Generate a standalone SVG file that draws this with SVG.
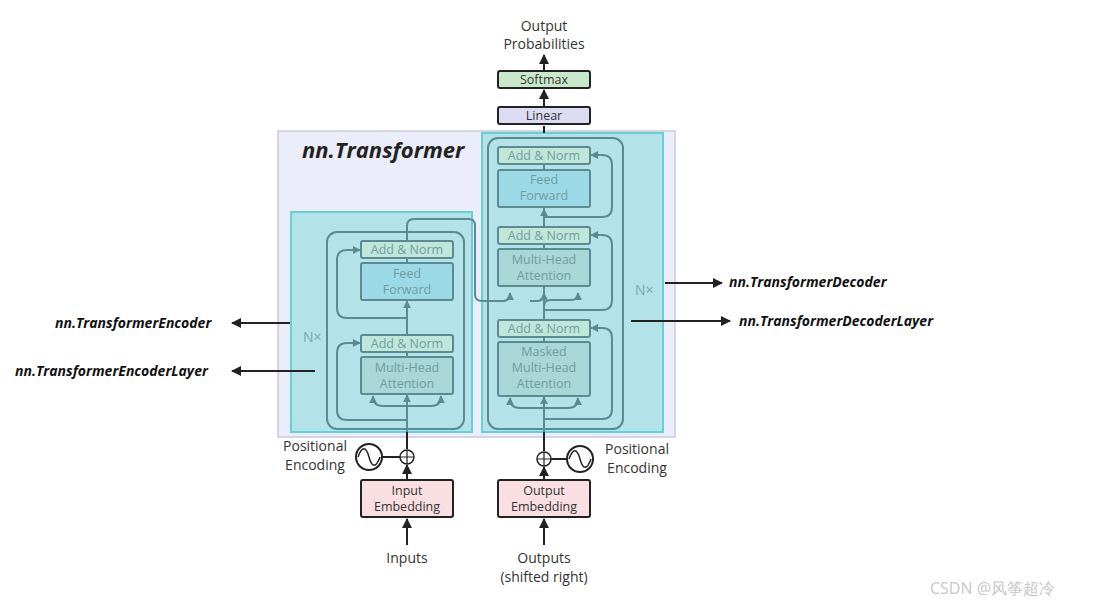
<svg xmlns="http://www.w3.org/2000/svg" width="1093" height="606" viewBox="0 0 1093 606">
<defs>
<marker id="ah" viewBox="0 0 10 10" refX="9" refY="5" markerWidth="5" markerHeight="5" orient="auto"><path d="M0,0 L10,5 L0,10 z" fill="#222"/></marker>
<marker id="af" viewBox="0 0 10 10" refX="9" refY="5" markerWidth="4" markerHeight="4" orient="auto"><path d="M0,0 L10,5 L0,10 z" fill="#5b8b90"/></marker>
<style>
text{font-family:"Open Sans","Liberation Sans",sans-serif}
.blk{font-size:12.5px;fill:#6f9da0;text-anchor:middle}
.an{fill:#bfe6d8;stroke:#5b8b90;stroke-width:2}
.ff{fill:#9cd9e6;stroke:#5b8b90;stroke-width:2}
.mh{fill:#a9d6d6;stroke:#5b8b90;stroke-width:2}
.fl{fill:none;stroke:#5b8b90;stroke-width:2}
.dk{fill:none;stroke:#222;stroke-width:2}
.lb{font-size:14px;fill:#333;text-anchor:middle}
.api{font-size:14px;font-weight:bold;font-style:italic;fill:#111}
</style>
</defs>
<rect width="1093" height="606" fill="#fff"/>
<g id="transformer"><rect x="278" y="131" width="397" height="306" fill="#ecedfa" stroke="#c9c9e0" stroke-width="1.5"/>
<text x="302" y="158" font-size="22" font-weight="bold" font-style="italic" fill="#222">nn.Transformer</text></g>
<g id="encoder-box"><rect x="291" y="212" width="181" height="220" fill="#b3e2e8" stroke="#62d2d6" stroke-width="2"/>
<text x="303" y="342" font-size="14" fill="#7aa8ac">N×</text></g>
<g id="decoder-box"><rect x="482" y="133" width="181" height="299" fill="#b3e2e8" stroke="#62d2d6" stroke-width="2"/>
<text x="635" y="295" font-size="14" fill="#7aa8ac">N×</text></g>
<g id="enc-layer"><rect x="327" y="232" width="137" height="197" rx="10" class="fl"/></g>
<g id="dec-layer"><rect x="488" y="138" width="135" height="291" rx="10" class="fl"/></g>
<g id="connectors">
<path d="M407,432 V240" class="fl"/>
<path d="M407,420 H347 Q337,420 337,410 V353 Q337,343 347,343 H360" class="fl" marker-end="url(#af)"/>
<path d="M407,318 H347 Q337,318 337,308 V260 Q337,250 347,250 H360" class="fl" marker-end="url(#af)"/>
<path d="M407,336 V301" class="fl" marker-end="url(#af)"/>
<path d="M407,406 H383 Q373,406 373,396" class="fl" marker-end="url(#af)"/>
<path d="M407,406 H431 Q441,406 441,396" class="fl" marker-end="url(#af)"/>
<path d="M407,410 V395" class="fl" marker-end="url(#af)"/>
<path d="M407,241 V226 Q407,219 414,219 H469 Q475,219 475,226 V294 Q475,301 482,301 H503 Q510,301 510,293" class="fl" marker-end="url(#af)"/>
<path d="M530,301 H537 Q544,301 544,293" class="fl" marker-end="url(#af)"/>
<path d="M544,432 V146" class="fl"/>
<path d="M544,419 H602 Q612,419 612,409 V338 Q612,328 602,328 H591" class="fl" marker-end="url(#af)"/>
<path d="M544,310 H602 Q612,310 612,300 V245 Q612,235 602,235 H591" class="fl" marker-end="url(#af)"/>
<path d="M544,217 H602 Q612,217 612,207 V165 Q612,155 602,155 H591" class="fl" marker-end="url(#af)"/>
<path d="M544,310 V306 Q544,300 551,300 H571 Q578,300 578,293" class="fl" marker-end="url(#af)"/>
<path d="M544,408 H520 Q510,408 510,398" class="fl" marker-end="url(#af)"/>
<path d="M544,408 H568 Q578,408 578,398" class="fl" marker-end="url(#af)"/>
<path d="M544,410 V397" class="fl" marker-end="url(#af)"/>
<path d="M544,320 V340" class="fl"/>
<path d="M544,226 V209" class="fl" marker-end="url(#af)"/>
<path d="M407,432 V449" class="dk"/>
<path d="M407,479 V465" class="dk" marker-end="url(#ah)"/>
<path d="M407,545 V519" class="dk" marker-end="url(#ah)"/>
<path d="M382,457 H400" class="dk"/>
<path d="M544,432 V451" class="dk"/>
<path d="M544,479 V467" class="dk" marker-end="url(#ah)"/>
<path d="M544,545 V519" class="dk" marker-end="url(#ah)"/>
<path d="M551,459 H567" class="dk"/>
<path d="M544,133 V126" class="dk"/>
<path d="M544,106 V90" class="dk" marker-end="url(#ah)"/>
<path d="M544,70 V55" class="dk" marker-end="url(#ah)"/>
<path d="M290,323 H232" class="dk" marker-end="url(#ah)" stroke-width="1.5"/>
<path d="M315,371 H232" class="dk" marker-end="url(#ah)" stroke-width="1.5"/>
<path d="M665,283 H722" class="dk" marker-end="url(#ah)" stroke-width="1.5"/>
<path d="M631,321 H730" class="dk" marker-end="url(#ah)" stroke-width="1.5"/>
</g>
<g id="enc-addnorm2"><rect x="361" y="241" width="92" height="17" rx="2" class="an"/><text x="407" y="254" class="blk">Add &amp; Norm</text></g>
<g id="enc-ff"><rect x="361" y="263" width="92" height="37" rx="2" class="ff"/><text x="407" y="278" class="blk">Feed</text><text x="407" y="294" class="blk">Forward</text></g>
<g id="enc-addnorm1"><rect x="361" y="335" width="92" height="17" rx="2" class="an"/><text x="407" y="348" class="blk">Add &amp; Norm</text></g>
<g id="enc-mha"><rect x="361" y="357" width="92" height="37" rx="2" class="mh"/><text x="407" y="372" class="blk">Multi-Head</text><text x="407" y="388" class="blk">Attention</text></g>
<g id="dec-addnorm3"><rect x="498" y="147" width="92" height="17" rx="2" class="an"/><text x="544" y="160" class="blk">Add &amp; Norm</text></g>
<g id="dec-ff"><rect x="498" y="170" width="92" height="37" rx="2" class="ff"/><text x="544" y="184" class="blk">Feed</text><text x="544" y="200" class="blk">Forward</text></g>
<g id="dec-addnorm2"><rect x="498" y="227" width="92" height="17" rx="2" class="an"/><text x="544" y="240" class="blk">Add &amp; Norm</text></g>
<g id="dec-mha"><rect x="498" y="249" width="92" height="37" rx="2" class="mh"/><text x="544" y="264" class="blk">Multi-Head</text><text x="544" y="280" class="blk">Attention</text></g>
<g id="dec-addnorm1"><rect x="498" y="320" width="92" height="17" rx="2" class="an"/><text x="544" y="333" class="blk">Add &amp; Norm</text></g>
<g id="dec-mmha"><rect x="498" y="342" width="92" height="54" rx="2" class="mh"/><text x="544" y="356" class="blk">Masked</text><text x="544" y="372" class="blk">Multi-Head</text><text x="544" y="388" class="blk">Attention</text></g>
<g id="enc-pe"><circle cx="369" cy="457" r="13" fill="#fff" stroke="#222" stroke-width="2"/><path d="M358,457 C362,446 366,446 369,457 C372,468 376,468 380,457" fill="none" stroke="#222" stroke-width="1.5"/>
<circle cx="407" cy="457" r="7" fill="#fff" stroke="#222" stroke-width="1.5"/><path d="M400,457 H414 M407,450 V464" stroke="#222" stroke-width="1.2"/>
<text x="315" y="451" class="lb">Positional</text><text x="315" y="470" class="lb">Encoding</text></g>
<g id="dec-pe"><circle cx="580" cy="459" r="13" fill="#fff" stroke="#222" stroke-width="2"/><path d="M569,459 C573,448 577,448 580,459 C583,470 587,470 591,459" fill="none" stroke="#222" stroke-width="1.5"/>
<circle cx="544" cy="459" r="7" fill="#fff" stroke="#222" stroke-width="1.5"/><path d="M537,459 H551 M544,452 V466" stroke="#222" stroke-width="1.2"/>
<text x="637" y="454" class="lb">Positional</text><text x="637" y="473" class="lb">Encoding</text></g>
<g id="input-emb"><rect x="361" y="480" width="92" height="37" rx="2" fill="#f9dfe2" stroke="#222" stroke-width="2"/><text x="407" y="495" font-size="12.5" text-anchor="middle" fill="#333">Input</text><text x="407" y="511" font-size="12.5" text-anchor="middle" fill="#333">Embedding</text></g>
<g id="output-emb"><rect x="498" y="480" width="92" height="37" rx="2" fill="#f9dfe2" stroke="#222" stroke-width="2"/><text x="544" y="495" font-size="12.5" text-anchor="middle" fill="#333">Output</text><text x="544" y="511" font-size="12.5" text-anchor="middle" fill="#333">Embedding</text></g>
<g id="linear"><rect x="498" y="107" width="92" height="17" rx="2" fill="#dcdcf2" stroke="#222" stroke-width="2"/><text x="544" y="120" font-size="12.5" text-anchor="middle" fill="#333">Linear</text></g>
<g id="softmax"><rect x="498" y="71" width="92" height="17" rx="2" fill="#c9e8cb" stroke="#222" stroke-width="2"/><text x="544" y="84" font-size="12.5" text-anchor="middle" fill="#333">Softmax</text></g>
<g id="labels">
<text x="544" y="31" class="lb">Output</text><text x="544" y="49" class="lb">Probabilities</text>
<text x="407" y="563" class="lb">Inputs</text>
<text x="544" y="563" class="lb">Outputs</text><text x="544" y="582" class="lb">(shifted right)</text>
<text x="55" y="328" class="api">nn.TransformerEncoder</text>
<text x="15" y="376" class="api">nn.TransformerEncoderLayer</text>
<text x="729" y="287" class="api">nn.TransformerDecoder</text>
<text x="739" y="326" class="api">nn.TransformerDecoderLayer</text>
<text x="930" y="594" font-size="16" fill="#c8c8c8" font-family="Liberation Sans,Noto Sans CJK SC,sans-serif">CSDN @风筝超冷</text>
</g>
</svg>
